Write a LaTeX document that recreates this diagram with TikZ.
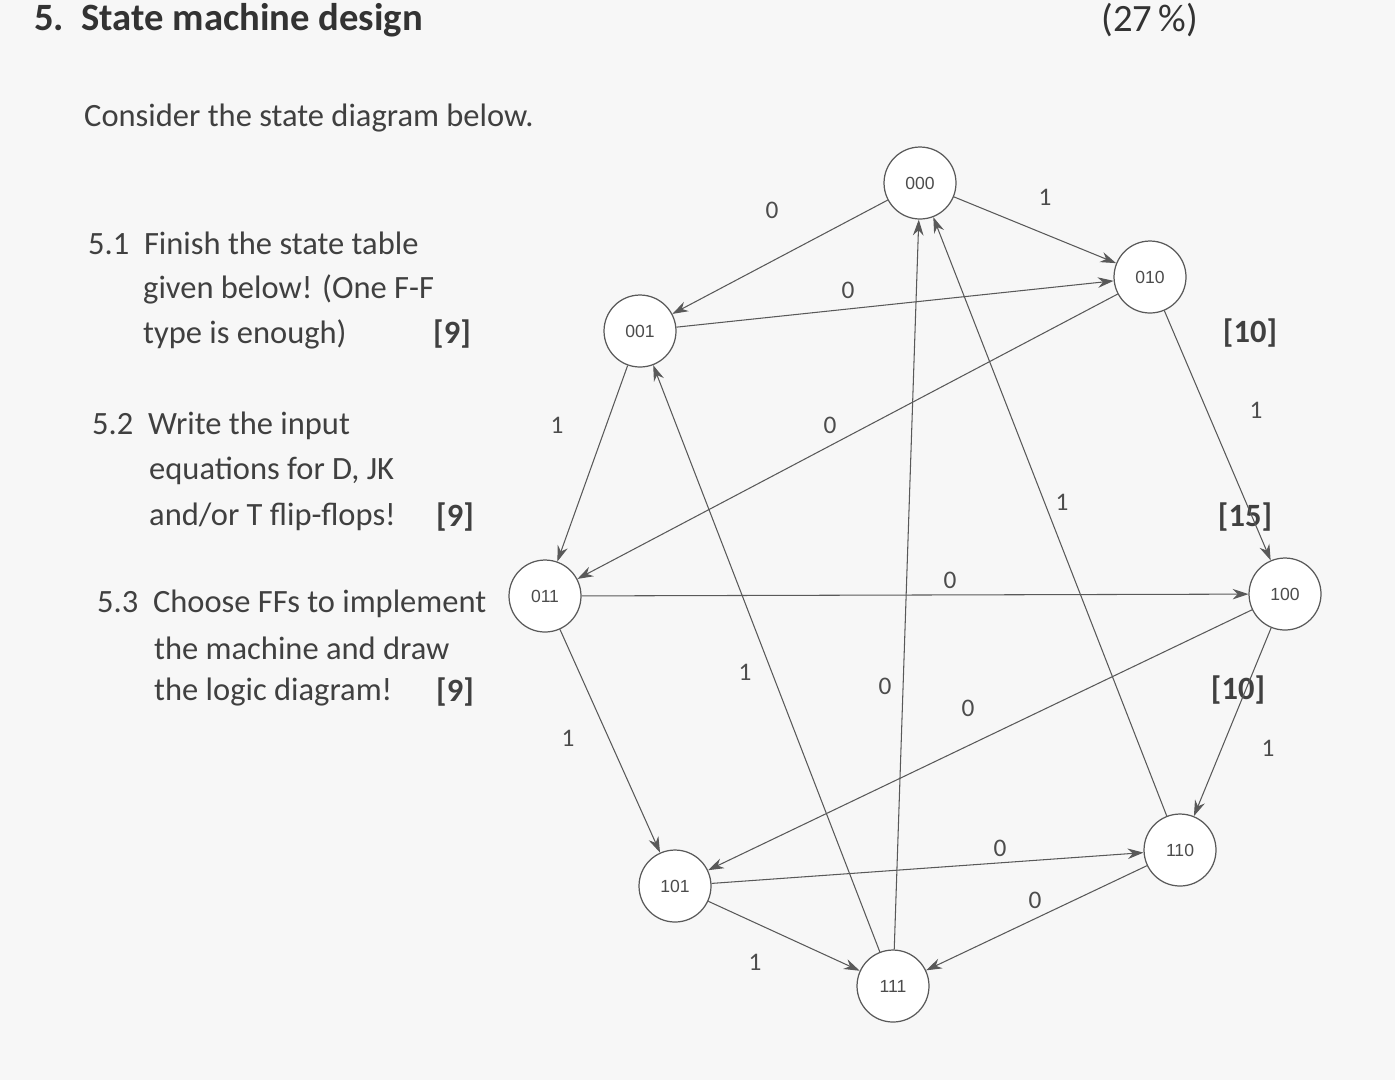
\documentclass[tikz,border=0pt]{standalone}
\usepackage{fontspec}
\setmainfont{Carlito}
\newfontfamily\nodefont{Liberation Sans}
\usetikzlibrary{arrows.meta}
\begin{document}
\begin{tikzpicture}[x=0.02cm,y=-0.02cm,
  st/.style={circle,draw=gray!70!black,fill=white,line width=0.7pt,minimum size=1.44cm,inner sep=0pt,font=\nodefont\normalsize,text=gray!60!black},
  tr/.style={draw=gray!70!black,line width=0.6pt,-{Stealth[length=9pt,width=6pt]}},
  lb/.style={font=\Large,text=gray!60!black},
  tx/.style={anchor=west,font=\fontsize{18.5}{22}\selectfont,text=black!75},
  mk/.style={font=\fontsize{18.5}{22}\selectfont\bfseries,text=black!75}]
\fill[gray!6] (0,0) rectangle (1395,1080);
\useasboundingbox (0,0) rectangle (1395,1080);
\node[anchor=west,font=\fontsize{22}{26}\selectfont\bfseries,text=black!80] (title) at (28,20) {5.\ \ State machine design};
\node[font=\fontsize{22}{26}\selectfont,text=black!80] (pct) at (1150,20) {(27\,\%)};
\node[tx] (cons) at (78,118) {Consider the state diagram below.};
\node[tx] (a1) at (82,243) {5.1\ \ Finish the state table};
\node[tx] (a2) at (137,289) {given below! (One F-F};
\node[tx] (a3) at (137,334) {type is enough)};
\node[mk] (a4) at (452,334) {[9]};
\node[tx] (b1) at (86,426) {5.2\ \ Write the input};
\node[tx] (b2) at (143,471) {equations for D, JK};
\node[tx] (b3) at (143,517) {and/or T flip-flops!};
\node[mk] (b4) at (455,517) {[9]};
\node[tx] (c1) at (91,604) {5.3\ \ Choose FFs to implement};
\node[tx] (c2) at (148,648) {the machine and draw};
\node[tx] (c3) at (148,692) {the logic diagram!};
\node[mk] (c4) at (455,692) {[9]};
\node[mk] (m1) at (1250,333) {[10]};
\node[mk] (m2) at (1245,517) {[15]};
\node[mk] (m3) at (1238,690) {[10]};

\node[st] (s000) at (920,183) {000};
\node[st] (s010) at (1150,277) {010};
\node[st] (s001) at (640,331) {001};
\node[st] (s011) at (545,596) {011};
\node[st] (s100) at (1285,594) {100};
\node[st] (s110) at (1180,850) {110};
\node[st] (s101) at (675,886) {101};
\node[st] (s111) at (893,986) {111};

\draw[tr] (s000) -- (s001);
\draw[tr] (s000) -- (s010);
\draw[tr] (s001) -- (s010);
\draw[tr] (s010) -- (s011);
\draw[tr] (s010) -- (s100);
\draw[tr] (s001) -- (s011);
\draw[tr] (s011) -- (s100);
\draw[tr] (s011) -- (s101);
\draw[tr] (s100) -- (s101);
\draw[tr] (s100) -- (s110);
\draw[tr] (s101) -- (s110);
\draw[tr] (s101) -- (s111);
\draw[tr] (s110) -- (s111);
\draw[tr] (s111) -- (s001);
\draw[tr] (s111) -- (s000);
\draw[tr] (s110) -- (s000);

\node[lb] (l1) at (772,210) {0};
\node[lb] (l2) at (1045,197) {1};
\node[lb] (l3) at (848,290) {0};
\node[lb] (l4) at (830,425) {0};
\node[lb] (l5) at (1256,410) {1};
\node[lb] (l6) at (557,425) {1};
\node[lb] (l7) at (950,580) {0};
\node[lb] (l8) at (568,738) {1};
\node[lb] (l9) at (968,708) {0};
\node[lb] (l10) at (1268,748) {1};
\node[lb] (l11) at (1000,848) {0};
\node[lb] (l12) at (755,962) {1};
\node[lb] (l13) at (1035,900) {0};
\node[lb] (l14) at (745,672) {1};
\node[lb] (l15) at (885,686) {0};
\node[lb] (l16) at (1062,502) {1};
\end{tikzpicture}
\end{document}
